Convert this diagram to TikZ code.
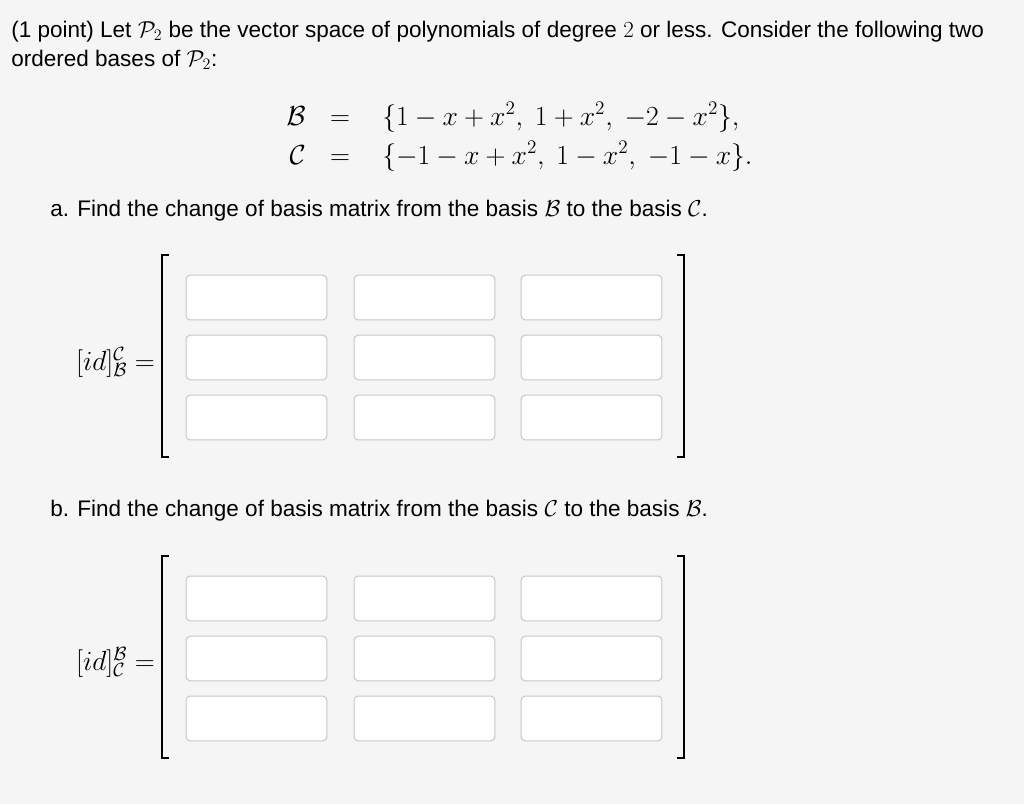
\documentclass[tikz,border=0pt]{standalone}
\usepackage{fontspec}
\setmainfont{Liberation Sans}
\begin{document}
\begin{tikzpicture}[x=0.75pt,y=-0.75pt,
  cell/.style={draw=black!22,fill=white,rounded corners=3pt,line width=0.8pt,minimum width=105.5pt,minimum height=33.5pt,inner sep=0pt},
  txt/.style={anchor=base west,inner sep=0pt,font=\fontsize{16.9}{19}\selectfont},
  mth/.style={anchor=base,inner sep=0pt,font=\fontsize{19.5}{22}\selectfont},
  brk/.style={line width=1.4pt}]
\useasboundingbox (0,0) rectangle (1024,804);
\fill[black!4] (0,0) rectangle (1024,804);
\node[txt] (l1) at (11,37) {(1 point) Let $\mathcal{P}_2$ be the vector space of polynomials of degree $2$ or less. Consider the following two};
\node[txt] (l2) at (11,66) {ordered bases of $\mathcal{P}_2$:};
\node[mth,anchor=base east] (B) at (306,125) {$\mathcal{B}$};
\node[mth] (e1) at (340,125) {$=$};
\node[mth,anchor=base west] (s1) at (382,125) {$\{1-x+x^2,\ 1+x^2,\ -2-x^2\},$};
\node[mth,anchor=base east] (C) at (306,164) {$\mathcal{C}$};
\node[mth] (e2) at (340,164) {$=$};
\node[mth,anchor=base west] (s2) at (382,164) {$\{-1-x+x^2,\ 1-x^2,\ -1-x\}.$};
\node[txt] (qa) at (50,216) {a. Find the change of basis matrix from the basis $\mathcal{B}$ to the basis $\mathcal{C}$.};
\node[txt] (qb) at (50,516) {b. Find the change of basis matrix from the basis $\mathcal{C}$ to the basis $\mathcal{B}$.};
\node[mth,anchor=east] (ida) at (155,362) {$[id]_{\mathcal{B}}^{\mathcal{C}}=$};
\node[mth,anchor=east] (idb) at (155,662) {$[id]_{\mathcal{C}}^{\mathcal{B}}=$};
\foreach \m/\t in {a/255,b/556}{
  \draw[brk] (169,\t) -- (162,\t) -- (162,\t+202) -- (169,\t+202);
  \draw[brk] (677,\t) -- (684,\t) -- (684,\t+202) -- (677,\t+202);
  \foreach \r in {0,1,2}{
    \foreach \c/\x in {0/256.5,1/424.5,2/591.5}{
      \node[cell] (\m\r\c) at (\x,\t+42.5+60*\r) {};
    }
  }
}
\end{tikzpicture}
\end{document}
